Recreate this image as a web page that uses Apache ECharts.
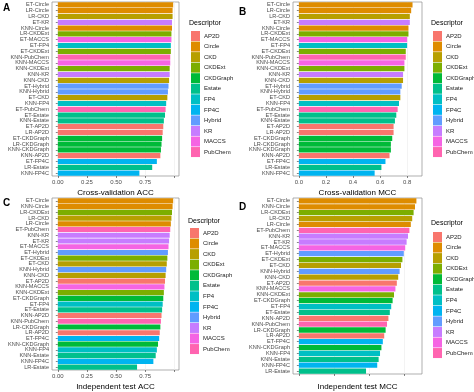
<!DOCTYPE html>
<html><head><meta charset="utf-8">
<script src="https://cdn.jsdelivr.net/npm/echarts@6/dist/echarts.min.js"></script>
<style>html,body{margin:0;padding:0;background:#fff}#c{width:474px;height:392px}</style>
</head><body><div id="c"></div>
<script>
const descriptors = ['AP2D','Circle','CKD','CKDExt','CKDGraph','Estate','FP4','FP4C','Hybrid','KR','MACCS','PubChem'];
const descColors = ['#F8766D','#DE8C00','#B79F00','#7CAE00','#00BA38','#00C08B','#00BFC4','#00B4F0','#619CFF','#C77CFF','#F564E3','#FF64B0'];

const cvModels = ['ET-Circle','LR-Circle','LR-CKD','ET-KR','KNN-Circle','LR-CKDExt','ET-MACCS','ET-FP4','ET-CKDExt','KNN-PubChem','KNN-MACCS','KNN-CKDExt','KNN-KR','KNN-CKD','ET-Hybrid','KNN-Hybrid','ET-CKD','KNN-FP4','ET-PubChem','ET-Estate','KNN-Estate','ET-AP2D','LR-AP2D','ET-CKDGraph','LR-CKDGraph','KNN-CKDGraph','KNN-AP2D','ET-FP4C','LR-Estate','KNN-FP4C'];
const cvAcc = [0.99,0.985,0.985,0.98,0.98,0.975,0.975,0.97,0.97,0.965,0.965,0.96,0.96,0.955,0.95,0.945,0.94,0.93,0.925,0.92,0.91,0.905,0.90,0.895,0.89,0.885,0.88,0.85,0.81,0.70];
const cvMcc = [0.84,0.83,0.82,0.82,0.81,0.81,0.80,0.80,0.79,0.79,0.78,0.78,0.77,0.77,0.76,0.75,0.75,0.74,0.73,0.72,0.71,0.70,0.70,0.69,0.68,0.68,0.67,0.64,0.61,0.56];

const testModels = ['ET-Circle','KNN-Circle','LR-CKDExt','LR-CKD','LR-Circle','ET-PubChem','KNN-KR','ET-KR','ET-MACCS','ET-Hybrid','ET-CKDExt','ET-CKD','KNN-Hybrid','KNN-CKD','ET-AP2D','KNN-MACCS','KNN-CKDExt','ET-CKDGraph','ET-FP4','ET-Estate','KNN-AP2D','KNN-PubChem','LR-CKDGraph','LR-AP2D','ET-FP4C','KNN-CKDGraph','KNN-FP4','KNN-Estate','KNN-FP4C','LR-Estate'];
const testAcc = [0.99,0.985,0.98,0.975,0.97,0.965,0.96,0.955,0.95,0.945,0.94,0.935,0.93,0.925,0.92,0.915,0.91,0.905,0.90,0.895,0.89,0.885,0.88,0.875,0.87,0.86,0.85,0.84,0.82,0.68];
const testMcc = [0.84,0.83,0.82,0.81,0.80,0.79,0.78,0.77,0.76,0.75,0.74,0.73,0.72,0.71,0.70,0.69,0.68,0.67,0.66,0.65,0.64,0.63,0.62,0.61,0.60,0.59,0.58,0.57,0.56,0.48];

const panels = [
  {models: cvModels, vals: cvAcc, name: 'Cross-validation ACC', grid:{left:52, top:2, width:127, height:174}, min:-0.05, max:1.04, ticks:[0,0.25,0.5,0.75,1], labels:[0,0.25,0.5,0.75], dec:2, legendTop:31, legendLeft:191, titleTop:20, letter:'A', lx:3, ly:3},
  {models: cvModels, vals: cvMcc, name: 'Cross-validation MCC', grid:{left:293, top:2, width:129, height:174}, min:-0.0434, max:0.91, ticks:[0,0.2,0.4,0.6,0.8], labels:[0,0.2,0.4,0.6,0.8], dec:1, legendTop:31, legendLeft:433, titleTop:20, letter:'B', lx:239, ly:7},
  {models: testModels, vals: testAcc, name: 'Independent test ACC', grid:{left:52, top:198, width:127, height:176}, min:-0.05, max:1.04, ticks:[0,0.25,0.5,0.75,1], labels:[0,0.25,0.5,0.75], dec:2, legendTop:228, legendLeft:190, titleTop:218, letter:'C', lx:3, ly:198},
  {models: testModels, vals: testMcc, name: 'Independent test MCC', grid:{left:293, top:198, width:129, height:180}, min:-0.042, max:0.88, ticks:[0,0.25,0.5,0.75], labels:[], dec:2, legendTop:232, legendLeft:433, titleTop:220, letter:'D', lx:239, ly:202}
];

const FONT = 'Liberation Sans';
const grids = [], xAxes = [], yAxes = [], series = [], legends = [], titles = [];
panels.forEach((p, pi) => {
  grids.push(Object.assign({show:true, borderColor:'#8c8c8c', borderWidth:0.7, backgroundColor:'#fff'}, p.grid));
  xAxes.push({
    type:'value', gridIndex:pi, min:p.min, max:p.max,
    name:p.name, nameLocation:'middle', nameGap: pi===3 ? 9 : 13,
    nameTextStyle:{fontFamily:FONT, fontSize:8, color:'#000'},
    axisLine:{show:false},
    axisTick:{show:true, length:2, lineStyle:{color:'#333', width:0.6}, customValues:p.ticks},
    axisLabel:{fontFamily:FONT, fontSize:6, color:'#4d4d4d', margin:3, customValues:p.labels, formatter:v=>v.toFixed(p.dec)},
    splitLine:{show:true, lineStyle:{color:'#ebebeb', width:0.6}}
  });
  yAxes.push({
    type:'category', gridIndex:pi, data:p.models, inverse:true,
    axisLine:{show:false},
    axisTick:{show:true, length:2, alignWithLabel:true, lineStyle:{color:'#333', width:0.6}},
    axisLabel:{fontFamily:FONT, fontSize:5.6, color:'#4d4d4d', margin:3, interval:0},
    splitLine:{show:false}
  });
  descriptors.forEach((d, di) => {
    series.push({
      type:'bar', name:d, xAxisIndex:pi, yAxisIndex:pi, stack:'s'+pi, barWidth:'90%',
      itemStyle:{color:descColors[di]},
      data:p.models.map((m,i)=> m.split('-')[1]===d ? p.vals[i] : '-'),
      silent:true, animation:false
    });
  });
  legends.push({
    data:descriptors, orient:'vertical', left:p.legendLeft, top:p.legendTop,
    icon:'rect', itemWidth:9, itemHeight:10, itemGap:0.55, selectedMode:false,
    textStyle:{fontFamily:FONT, fontSize:6, color:'#222', padding:[0,0,0,-1]}, padding:0
  });
  titles.push({text:'Descriptor', left:p.legendLeft-2, top:p.titleTop, textStyle:{fontFamily:FONT, fontSize:7, fontWeight:'normal', color:'#000'}, padding:0});
  titles.push({text:p.letter, left:p.lx, top:p.ly, textStyle:{fontFamily:FONT, fontSize:10, fontWeight:'bold', color:'#000'}, padding:0});
});

const chart = echarts.init(document.getElementById('c'), null, {renderer:'canvas'});
chart.setOption({animation:false, title:titles, grid:grids, xAxis:xAxes, yAxis:yAxes, series:series, legend:legends});
</script></body></html>
